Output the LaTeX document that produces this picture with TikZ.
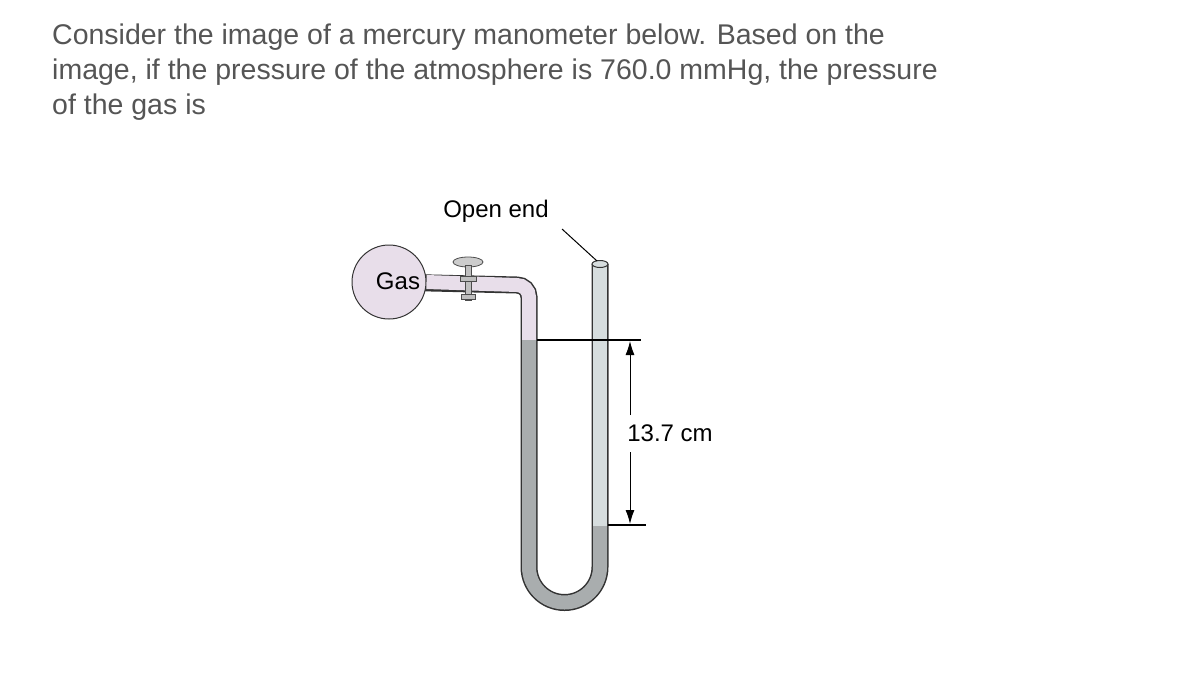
\documentclass[tikz,border=0pt]{standalone}
\usepackage{fontspec}
\setmainfont{Liberation Sans}
\usetikzlibrary{arrows.meta}
\definecolor{gasc}{HTML}{E8DEEA}
\definecolor{hgc}{HTML}{A9ADAE}
\definecolor{emptyc}{HTML}{D6DDDE}
\definecolor{qtext}{HTML}{555555}
\begin{document}
\begin{tikzpicture}[x=1pt,y=-1pt,
  outline/.style={line width=17pt,draw=black!80},
  inner/.style={line width=14pt},
  lbl/.style={font=\fontsize{24}{28}\selectfont,inner sep=1pt}]
\useasboundingbox (0,0) rectangle (1191,681);
\node[anchor=north west,align=left,text=qtext,font=\fontsize{28.5}{35}\selectfont,inner sep=0] (q) at (52,24)
 {Consider the image of a mercury manometer below. Based on the\\image, if the pressure of the atmosphere is 760.0 mmHg, the pressure\\of the gas is};
% coordinates
\coordinate (bc) at (389,282);
\coordinate (lvl) at (529,340);
\coordinate (rvl) at (600,526);
\coordinate (top) at (600,264);
% outlines
\draw[outline] (bc) -- (517,285) arc[start angle=-90,end angle=0,radius=12] -- (529,567) arc[start angle=180,end angle=0,radius=35.5] -- (top);
\node[circle,draw=black!80,line width=1pt,fill=gasc,minimum size=74pt] (bulb) at (bc) {};
\draw[inner,gasc] (bulb.east) -- (517,285) arc[start angle=-90,end angle=0,radius=12] -- (lvl);
\draw[inner,hgc] (lvl) -- (529,567) arc[start angle=180,end angle=0,radius=35.5] -- (rvl);
\draw[inner,emptyc] (rvl) -- (top);
\draw[fill=emptyc,draw=black!80,line width=1pt] (top) ellipse[x radius=8,y radius=3.5];
\node[lbl] (gas) at (398,281) {Gas};
% valve
\draw[fill=black!20,draw=black!70,line width=0.8pt] (468,262) ellipse[x radius=15,y radius=5];
\draw[fill=black!25,draw=black!70,line width=0.8pt] (465,265) rectangle (471,300);
\draw[fill=black!25,draw=black!70,line width=0.8pt] (460,276) rectangle (476,281);
\draw[fill=black!25,draw=black!70,line width=0.8pt] (461,294) rectangle (475,299);
% level lines and dimension
\coordinate (l1) at (537,340); \coordinate (l1e) at (641,340);
\coordinate (l2) at (608,525); \coordinate (l2e) at (646,525);
\draw[line width=1.3pt] (l1) -- (l1e);
\draw[line width=1.3pt] (l2) -- (l2e);
\node[lbl,fill=white] (dim) at (670,433) {13.7 cm};
\coordinate (a1) at (630,341); \coordinate (a2) at (630,524);
\draw[line width=1pt,-{Latex[length=14pt,width=9pt]}] (630,415) -- (a1);
\draw[line width=1pt,-{Latex[length=14pt,width=9pt]}] (630,452) -- (a2);
% open end
\node[lbl] (open) at (496,211) {Open end};
\draw[line width=1pt] (562,229) -- (597,261);
\end{tikzpicture}
\end{document}
